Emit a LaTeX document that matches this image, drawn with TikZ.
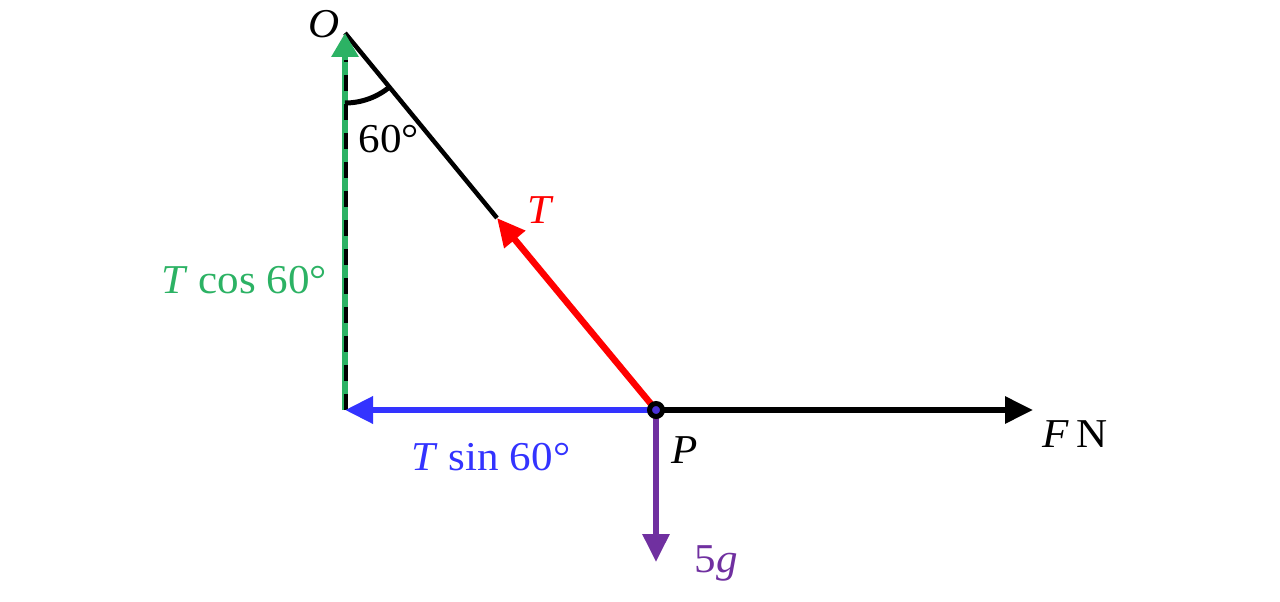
\documentclass[tikz,border=0pt]{standalone}
\usepackage{fontspec}
\setmainfont[FakeStretch=1.05]{Liberation Serif}
\usetikzlibrary{arrows.meta,calc}
\definecolor{fgreen}{RGB}{44,178,100}
\definecolor{fblue}{RGB}{51,51,255}
\definecolor{fpurple}{RGB}{112,48,160}
\definecolor{fred}{RGB}{255,0,0}
\begin{document}
\begin{tikzpicture}[x=1pt,y=-1pt,
  lbl/.style={font=\fontsize{41}{44}\selectfont, inner sep=0pt},
  tip/.style={-{Triangle[length=28pt,width=26pt]}},
  force/.style={line width=6.5pt, tip}]
\useasboundingbox (0,0) rectangle (1280,602);
\coordinate (O) at (345,33);
\coordinate (P) at (656,410);
\coordinate (Tend) at (497,218);
\coordinate (H) at (345,410);
\coordinate (Fend) at (1033,410);
\coordinate (Gend) at (656,562);
% string
\draw[line width=4.5pt] (O) -- (Tend);
% green component
\draw[line width=6.5pt, fgreen, -{Triangle[length=24pt,width=26pt]}] (H) -- (O);
\draw[line width=4.5pt, dash pattern=on 16pt off 13pt] (346,410) -- (346,60);
% angle
\draw[line width=5pt] ($(O)+(0,70)$) arc[start angle=90, end angle=50.5, radius=70];
% forces
\draw[force, fred] (P) -- (Tend);
\draw[force, fblue] (P) -- (H);
\draw[line width=6pt, black, tip] (P) -- (Fend);
\draw[line width=6pt, fpurple, tip] (P) -- (Gend);
\node[circle, draw=black, line width=5pt, fill=fblue!60!fpurple, minimum size=13pt, inner sep=0pt] (Pdot) at (P) {};
% labels
\node[lbl] (Olab) at (324,24) {\textit{O}};
\node[lbl] (ang) at (389,139) {60°};
\node[lbl, fred] (Tlab) at (541,210) {\textit{T}};
\node[lbl, fgreen] (Tcos) at (244,280) {\textit{T} cos 60°};
\node[lbl, fblue] (Tsin) at (491,457) {\textit{T} sin 60°};
\node[lbl] (Plab) at (685,450) {\textit{P}};
\node[lbl, fpurple] (g) at (716,563) {5\textit{g}};
\node[lbl] (F) at (1075,434) {\textit{F}\,N};
\end{tikzpicture}
\end{document}
